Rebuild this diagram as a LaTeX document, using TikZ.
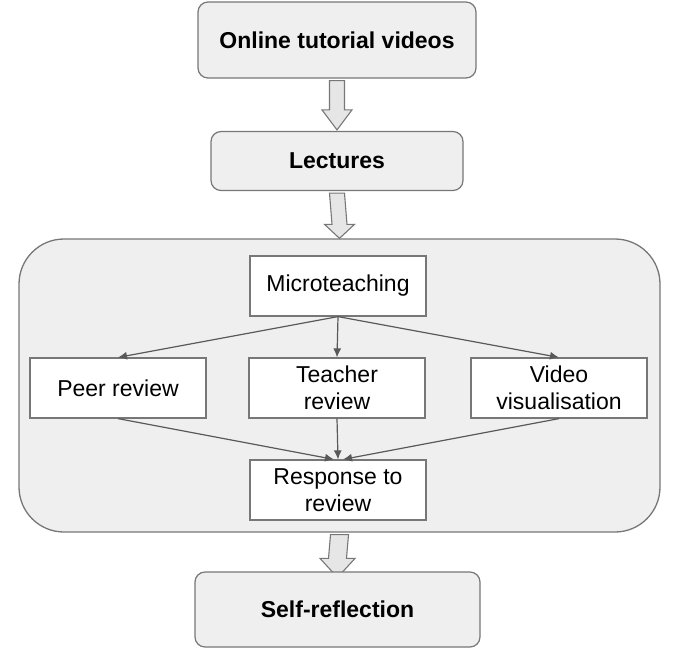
\documentclass[tikz,border=0pt]{standalone}
\usepackage{fontspec}
\setmainfont{Liberation Sans}
\usetikzlibrary{arrows.meta,calc,backgrounds}
\definecolor{boxfill}{HTML}{EFEFEF}
\definecolor{boxline}{HTML}{777777}
\definecolor{arrfill}{HTML}{E6E6E6}
\definecolor{lnk}{HTML}{595959}
\tikzset{
  stage/.style={draw=boxline, fill=boxfill, rounded corners=10pt, line width=1.2pt,
    font=\fontsize{23}{27}\selectfont\bfseries, inner sep=0pt, align=center},
  group/.style={draw=boxline, fill=boxfill, rounded corners=45pt, line width=1.3pt, inner sep=0pt},
  task/.style={draw=boxline, fill=white, line width=1.2pt, minimum width=176pt, minimum height=60pt,
    font=\fontsize{23}{27}\selectfont, inner sep=0pt, align=center},
  link/.style={draw=lnk, line width=1.2pt, -{Latex[length=9pt,width=8pt]}},
  blockarrow/.style={draw=boxline, fill=arrfill, line width=1.1pt, line join=miter},
}
% #1 start node, #2 end coordinate (tip), shaft half-width, head half-width, head length
\newcommand{\fatarrow}[5]{%
  \draw[blockarrow] ($(#1.south)+(-#3,2)$) -- ($(#2)+(-#3,-#5)$) -- ($(#2)+(-#4,-#5)$) -- (#2)
    -- ($(#2)+(#4,-#5)$) -- ($(#2)+(#3,-#5)$) -- ($(#1.south)+(#3,2)$) -- cycle;}
\begin{document}
\begin{tikzpicture}[x=1pt,y=-1pt]
\useasboundingbox (0,0) rectangle (685,654);
\node[stage, minimum width=278pt, minimum height=76pt] (online) at (337,40) {Online tutorial videos};
\node[stage, minimum width=252pt, minimum height=59pt] (lect) at (337,161) {Lectures};
\node[group, minimum width=641pt, minimum height=293pt] (grp) at (339.5,385.5) {};
\node[task] (micro) at (338,286) {Microteaching};
\node[task] (peer) at (118,388) {Peer review};
\node[task] (teach) at (337,388) {Teacher\\review};
\node[task] (video) at (559,388) {Video\\visualisation};
\node[task] (resp) at (338,490) {Response to\\review};
\node[stage, minimum width=285pt, minimum height=75pt] (self) at (337.5,609.5) {Self-reflection};
\coordinate (t1) at ($(lect.north)+(0,-1)$);
\coordinate (t2) at (grp.north);
\coordinate (t3) at ($(self.north)+(0,6)$);
\begin{scope}[on background layer]
\fatarrow{online}{t1}{7.5}{15}{20}
\fatarrow{lect}{t2}{7.5}{15}{14}
\fatarrow{grp}{t3}{9}{17.5}{19}
\end{scope}
\draw[link] (micro.south) -- (peer.north);
\draw[link] (micro.south) -- (teach.north);
\draw[link] (micro.south) -- (video.north);
\draw[link] (peer.south) -- ($(resp.north)+(-4,0)$);
\draw[link] (teach.south) -- (resp.north);
\draw[link] (video.south) -- ($(resp.north)+(5,0)$);
\end{tikzpicture}
\end{document}
